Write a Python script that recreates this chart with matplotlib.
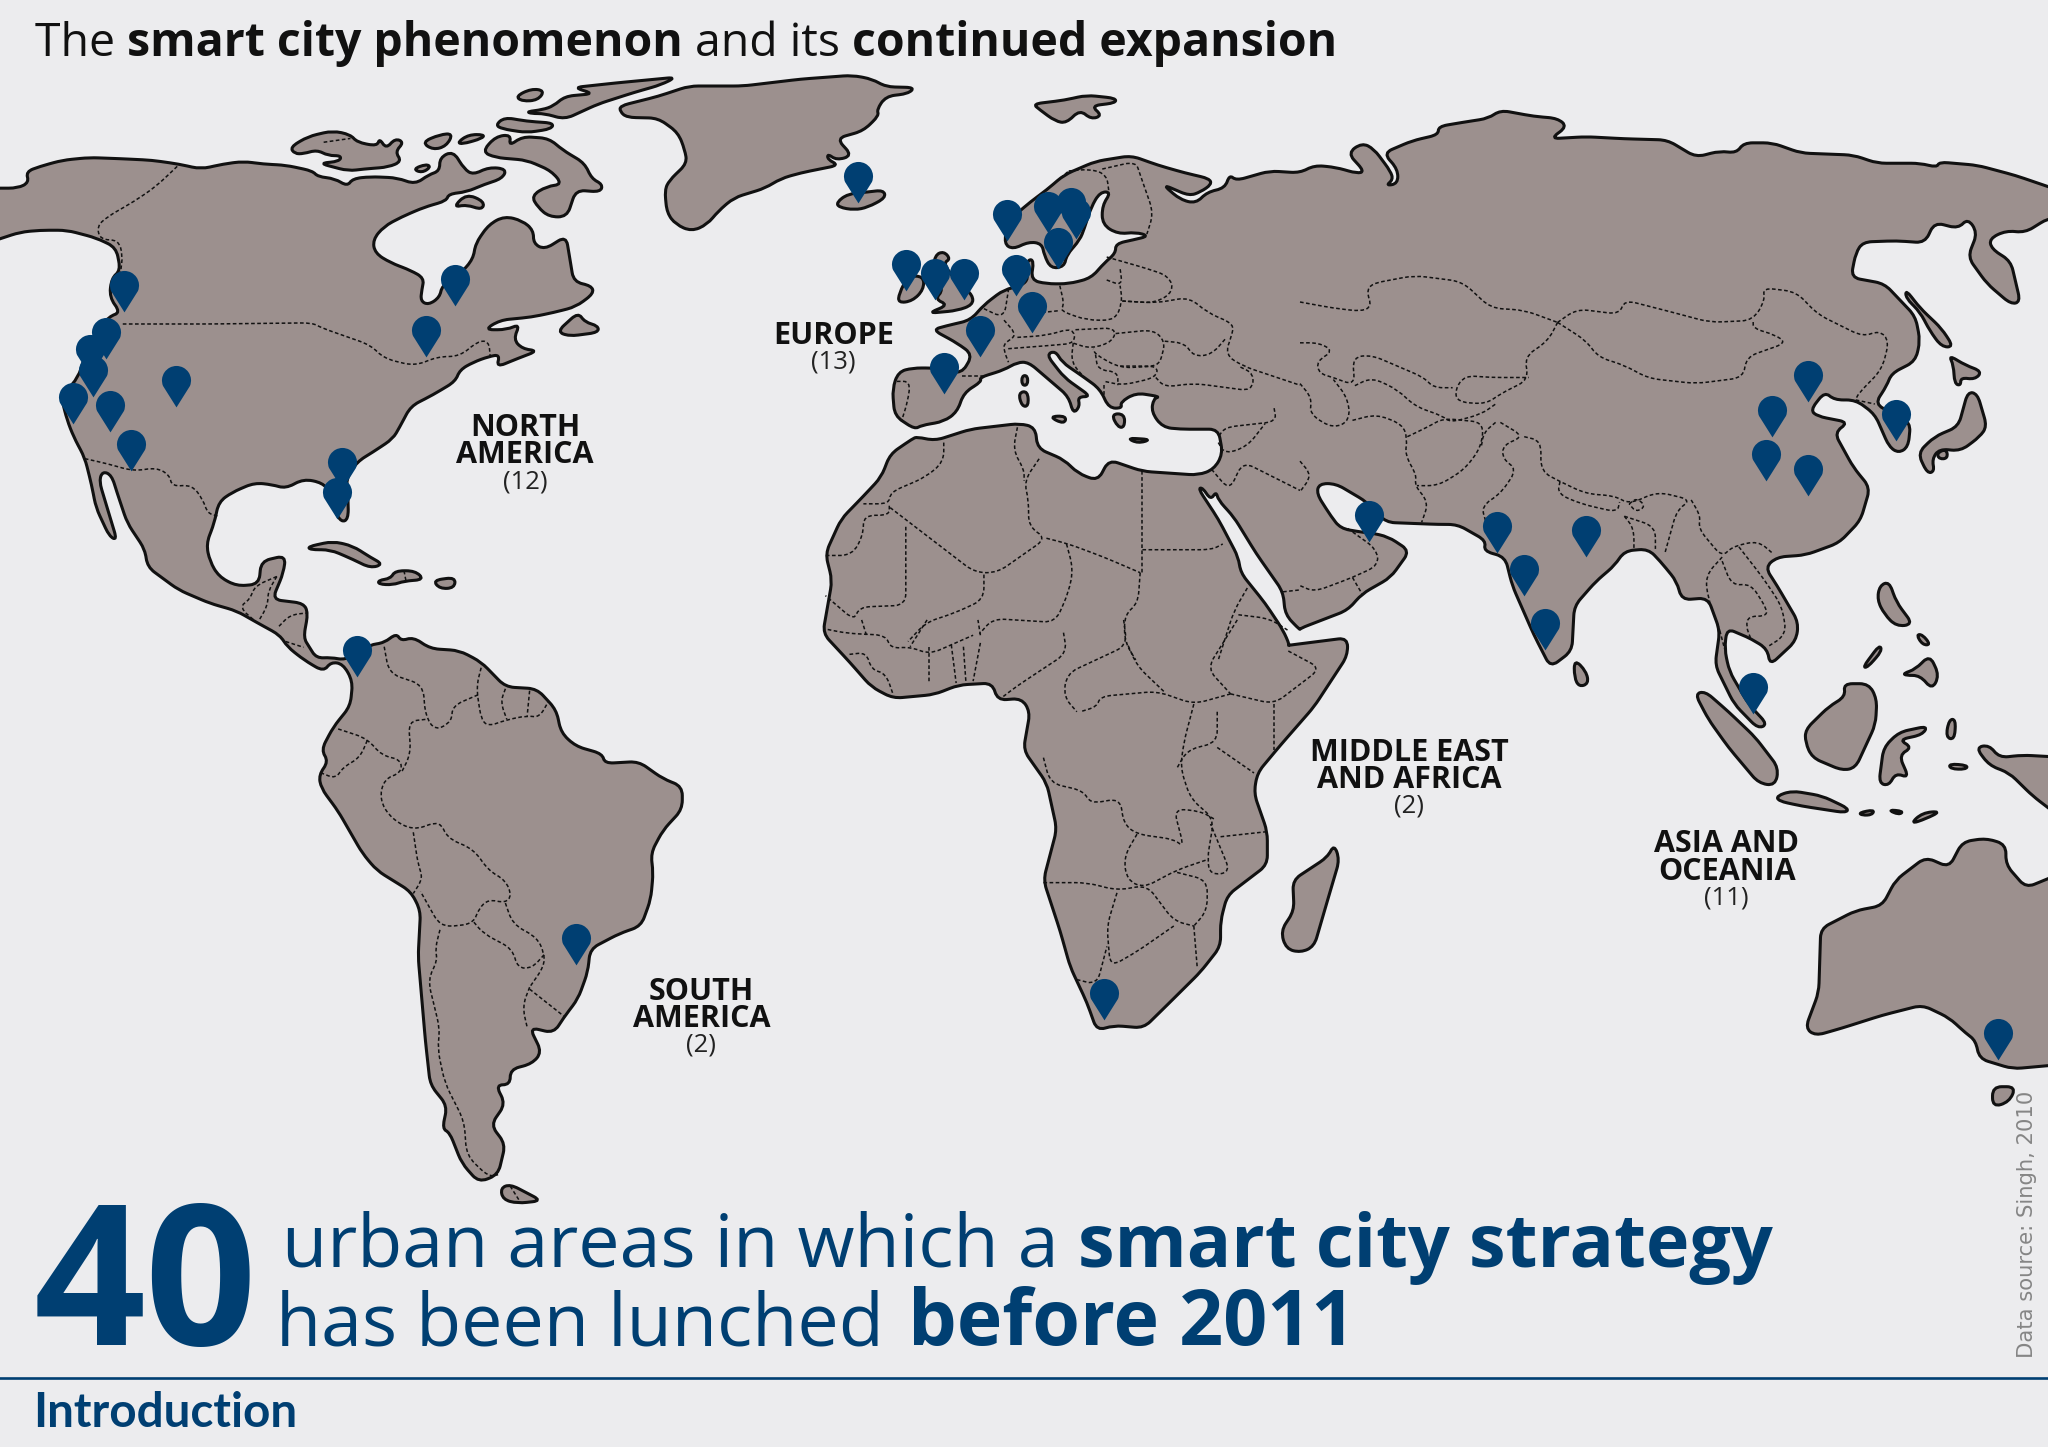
import numpy as np
import matplotlib
matplotlib.use('Agg')
import matplotlib.pyplot as plt
from matplotlib.path import Path
from matplotlib.patches import PathPatch

BLUE = '#003f72'
LAND = '#9c908e'
BG = '#ececee'
SCALE = 2048 / 1568

# crops of the reference the outlines were read from: x0, y0, width, height
Z1 = (0, 60, 700, 600)
Z2 = (600, 60, 700, 600)
Z3 = (1300, 100, 748, 640)
Z4 = (280, 620, 760, 600)
Z6 = (1000, 620, 1048, 800)

# americas, traced clockwise from the left edge
na_main = [(-20,335),(40,335),(65,320),(58,292),(90,278),(140,262),(200,255),(270,258),(340,262),(400,272),(450,285),(500,272),(545,265),(590,272),(640,275),(700,290),(712,305),(750,310),(778,330),(790,310),(830,305),(890,308),(930,325),(960,300),(985,290),(985,255),(1015,238),(1040,285),(1060,300),(1095,280),(1135,285),(1125,310),(1085,325),(1045,345),(1005,350),(1000,368),(950,385),(900,410),(860,435),(835,470),(840,505),(875,530),(920,550),(950,570),(945,600),(942,630),(960,640),(985,620),(990,590),(1030,560),(1060,520),(1065,480),(1095,430),(1130,408),(1170,420),(1195,445),(1195,480),(1220,495),(1268,460),(1278,530),(1285,580),(1325,590),(1330,610),(1290,645),(1240,660),(1190,672),(1120,680),(1085,705),(1135,705),(1165,690),(1150,730),(1170,755),(1205,760),(1160,780),(1112,803),(1120,770),(1095,775),(1060,790),(1030,810),(1020,840),(970,875),(920,905),(895,960),(880,990),(835,1025),(800,1050),(775,1095),(780,1150),(780,1200),(765,1208),(750,1180),(740,1130),(722,1105),(680,1095),(640,1120),(610,1110),(570,1105),(520,1130),(490,1155),(480,1210),(462,1265),(470,1310),(490,1350),(530,1375),(580,1370),(585,1310),(640,1295),(635,1340),(610,1410),(680,1420),(690,1445),(680,1510)]
sa_main = [(60,70),(75,100),(105,98),(135,105),(185,65),(215,60),(240,35),(250,55),(275,45),(310,75),(370,80),(415,110),(465,175),(530,180),(570,235),(580,295),(610,330),(665,350),(670,375),(740,370),(790,415),(830,435),(830,495),(790,550),(765,610),(770,660),(765,730),(745,800),(700,820),(640,860),(635,920),(615,990),(585,1040),(565,1080),(515,1065),(540,1130),(520,1160),(475,1175),(475,1215),(445,1215),(465,1265),(435,1320),(465,1370),(450,1450),(410,1470),(375,1420),(350,1340),(335,1330),(345,1270),(310,1215),(300,1100),(285,880),(290,760),(270,710),(200,655),(170,610),(120,500),(85,440),(80,405),(100,370),(85,340),(110,280),(145,225),(150,160),(130,115),(105,110),(90,135),(50,105),(15,70),(0,40)]
na_pacific = [(575,1470),(530,1440),(470,1420),(400,1385),(330,1325),(325,1280),(285,1210),(262,1130),(250,1085),(230,1075),(222,1100),(240,1170),(262,1255),(245,1245),(215,1170),(205,1110),(190,1040),(165,985),(150,940),(137,880),(175,830),(190,775),(215,710),(245,670),(270,660),(245,620),(250,570),(270,550),(260,490),(215,465),(150,445),(90,445),(45,450),(-20,475)]

# eurasia and africa share one outline
eu_north = [(705,965),(660,930),(655,860),(668,815),(700,805),(750,805),(810,820),(835,770),(800,740),(745,705),(775,695),(830,680),(860,640),(905,600),(945,590),(960,570),(950,550),(960,520),(972,525),(965,575),(1000,585),(1050,585),(1100,570),(1130,530),(1155,505),(1155,480),(1195,470),(1230,460),(1200,450),(1160,455),(1125,430),(1125,380),(1145,345),(1120,345),(1100,385),(1085,440),(1075,470),(1045,510),(1040,540),(1010,545),(995,510),(990,480),(960,475),(925,495),(905,480),(915,420),(965,370),(1000,340),(1040,300),(1110,265),(1190,250),(1250,275),(1310,295),(1365,310),(1370,325),(1345,345),(1320,355),(1260,325),(1300,365),(1335,375),(1360,345),(1400,335),(1410,300),(1425,315),(1500,290),(1568,295)]
asia_coast = [(30,160),(75,165),(120,180),(135,175),(100,130),(130,105),(155,120),(190,175),(195,195),(180,210),(205,205),(205,170),(175,130),(235,100),(290,85),(290,65),(340,55),(395,45),(420,25),(490,40),(540,45),(560,65),(525,95),(600,90),(680,95),(770,98),(830,140),(880,125),(915,130),(930,105),(990,105),(1050,130),(1160,135),(1210,155),(1300,155),(1335,165),(1340,152),(1420,160),(1500,185),(1600,225),(1600,285),(1568,290),(1520,325),(1480,320),(1445,340),(1450,365),(1490,395),(1510,495),(1490,500),(1440,450),(1400,385),(1420,325),(1400,290),(1380,315),(1330,300),(1310,350),(1250,345),(1180,348),(1165,375),(1155,435),(1225,450),(1290,530),(1300,590),(1290,640),(1240,670),(1230,700),(1205,745),(1280,790),(1275,850),(1255,865),(1235,850),(1205,770),(1165,735),(1120,735),(1100,715),(1070,760),(1085,775),(1150,790),(1120,815),(1160,900),(1195,950),(1175,1030),(1130,1085),(1060,1115),(1000,1120),(975,1145),(1000,1190),(1045,1280),(1040,1325),(985,1385),(980,1345),(945,1320),(925,1310),(895,1295),(890,1345),(900,1400),(940,1480),(980,1530),(960,1540),(910,1480),(870,1385),(880,1300),(855,1220),(800,1225),(790,1180),(755,1130),(730,1100),(680,1105),(660,1140),(620,1180),(575,1240),(570,1350),(525,1390),(490,1310),(445,1190),(430,1120),(385,1105),(390,1080),(330,1040),(290,1040),(180,1035),(140,985),(75,940),(40,940),(35,965),(65,1020),(85,1050),(135,1060),(145,1060),(185,1070),(230,1105),(190,1170),(130,1210),(100,1250),(0,1295)]
red_sea = [(1568,1490),(1535,1450),(1530,1390),(1470,1290),(1420,1195),(1385,1150),(1380,1128),(1368,1150),(1350,1118),(1340,1120),(1385,1200),(1430,1300),(1435,1340),(1490,1420),(1530,1490),(1545,1530)]
africa_east = [(430,50),(520,35),(520,70),(470,170),(420,245),(385,300),(380,340),(400,415),(400,480),(340,540),(330,590),(330,640),(300,690),(250,755),(215,800),(170,795),(145,805),(130,750),(105,680),(90,610),(65,510),(85,410),(70,320),(35,255),(45,180)]
africa_gulf = [(1530,205),(1480,210),(1470,165),(1400,170),(1350,195),(1265,205),(1220,175),(1175,110),(1120,35)]
africa_north = [(520,1360),(505,1290),(540,1200),(590,1140),(630,1090),(650,1030),(700,990),(710,985),(750,995),(830,965),(940,950),(975,960),(980,1015),(1040,1045),(1070,1080),(1115,1100),(1140,1045),(1215,1075),(1340,1085),(1375,1070)]
med_north = [(1395,1030),(1385,965),(1300,965),(1260,960),(1235,920),(1240,885),(1255,880),(1200,870),(1165,895),(1170,910),(1140,910),(1120,860),(1085,830),(1035,790),(1020,760),(1000,770),(1040,830),(1100,880),(1070,880),(1075,905),(1060,925),(1050,880),(1000,830),(960,790),(935,790),(905,810),(850,830),(855,840),(815,870),(800,920),(770,945),(720,955)]

# islands
islands_z1 = [
    [(650,228),(690,200),(745,185),(785,195),(800,215),(845,225),(850,205),(865,232),(885,205),(905,215),(885,240),(900,265),(870,280),(815,285),(780,290),(715,270),(760,265),(765,250),(735,250),(710,235),(680,245),(660,245)],
    [(925,285),(955,272),(965,280),(945,295)],
    [(945,215),(985,195),(1015,192),(1000,225),(970,235)],
    [(1025,215),(1050,195),(1085,195),(1080,205),(1035,220)],
    [(1080,240),(1110,200),(1145,195),(1140,225),(1170,200),(1230,205),(1260,235),(1310,270),(1325,310),(1350,325),(1345,345),(1290,340),(1270,410),(1230,410),(1205,385),(1190,355),(1225,330),(1260,325),(1235,290),(1180,262),(1110,255)],
    [(1110,170),(1130,150),(1180,160),(1240,165),(1235,180),(1180,190),(1125,180)],
    [(1180,135),(1215,130),(1240,120),(1265,95),(1330,88),(1285,72),(1380,60),(1515,45),(1480,65),(1420,85),(1340,115),(1265,155),(1220,140),(1190,140)],
    [(1155,95),(1190,75),(1220,80),(1205,105),(1170,108)],
    [(1015,385),(1045,350),(1085,370),(1080,392),(1045,378)],
    [(1248,710),(1295,660),(1310,685),(1340,695),(1340,712),(1275,722)],
    [(690,1272),(745,1258),(790,1270),(830,1300),(858,1318),(830,1328),(790,1305),(740,1280),(695,1280)],
    [(848,1360),(875,1355),(885,1335),(930,1335),(950,1358),(905,1362),(880,1372),(848,1370)],
    [(970,1360),(1020,1352),(1018,1380),(985,1382)],
]
islands_z2 = [
    [(45,120),(130,95),(200,68),(320,68),(450,50),(565,40),(610,50),(640,70),(705,72),(690,88),(640,95),(620,130),(625,145),(590,185),(530,205),(565,250),(530,262),(510,245),(510,260),(535,275),(450,295),(405,310),(370,335),(300,360),(265,395),(240,430),(205,448),(170,430),(150,400),(145,340),(155,315),(195,270),(190,235),(175,190),(130,152),(60,150),(45,135)],
    [(530,372),(555,350),(600,345),(635,340),(640,360),(600,385),(570,392),(535,385)],
    [(970,115),(1040,105),(1090,92),(1155,100),(1155,112),(1100,120),(1125,145),(1100,155),(1075,130),(1045,165),(1020,160),(985,130)],
    [(750,510),(770,500),(785,520),(770,530),(785,560),(810,590),(835,615),(835,640),(800,655),(735,662),(780,640),(750,625),(770,600),(745,560)],
    [(670,610),(690,565),(725,565),(725,600),(700,630),(668,635)],
    [(937,870),(958,865),(960,905),(945,905)],
    [(945,825),(958,825),(958,850),(945,850)],
    [(1005,932),(1045,930),(1040,952)],
    [(1180,988),(1235,992),(1205,1002)],
    [(1145,925),(1175,925),(1175,960),(1160,960)],
]
islands_z3 = [
    [(1295,865),(1330,825),(1380,800),(1400,715),(1420,720),(1440,800),(1425,825),(1385,860),(1340,855),(1325,880),(1330,910),(1315,915)],
    [(1335,865),(1355,855),(1358,878),(1340,880)],
    [(1360,625),(1395,650),(1430,665),(1415,685),(1385,680),(1385,700),(1372,695),(1370,650)],
    [(1270,465),(1300,510),(1345,560),(1370,605),(1345,605),(1320,565),(1300,520),(1270,485)],
    [(575,1370),(600,1400),(605,1430),(585,1438),(575,1415)],
    [(1215,1190),(1235,1180),(1250,1230),(1285,1285),(1250,1290),(1225,1260),(1210,1225)],
    [(1292,1310),(1305,1310),(1322,1335),(1305,1335)],
    [(1180,1390),(1215,1335),(1220,1350),(1190,1390)],
    [(1265,1405),(1290,1395),(1320,1360),(1340,1410),(1325,1445),(1300,1410),(1270,1410)],
]
islands_z4 = [[(455,1485),(475,1475),(540,1518),(490,1525),(460,1515)]]
islands_z6 = [
    [(1040,145),(1055,140),(1090,180),(1130,230),(1165,290),(1160,325),(1135,320),(1090,250),(1060,195)],
    [(1162,345),(1185,335),(1230,345),(1270,370),(1265,378),(1200,365),(1165,355)],
    [(1285,378),(1308,372),(1305,382),(1290,383)],
    [(1328,372),(1352,375),(1345,382)],
    [(1362,400),(1380,378),(1408,375),(1385,390)],
    [(1205,215),(1240,170),(1265,150),(1262,125),(1300,125),(1312,155),(1310,205),(1280,290),(1260,295),(1215,270),(1205,240)],
    [(1315,320),(1322,250),(1345,220),(1388,208),(1380,225),(1345,235),(1365,250),(1345,265),(1360,310),(1340,300),(1330,325)],
    [(1415,230),(1420,195),(1430,195),(1428,235)],
    [(1420,282),(1448,285),(1445,293),(1422,292)],
    [(1460,250),(1480,245),(1495,270),(1530,265),(1600,270),(1600,400),(1545,345),(1510,300),(1480,285)],
    [(1205,800),(1225,730),(1228,605),(1280,570),(1320,560),(1340,510),(1385,465),(1420,485),(1440,435),(1475,428),(1505,440),(1505,480),(1535,525),(1600,490),(1600,870),(1515,880),(1465,860),(1460,825),(1445,810),(1420,780),(1380,755),(1320,775),(1260,800),(1220,815)],
    [(1485,915),(1520,915),(1510,945),(1485,955)],
    [(420,610),(440,570),(438,510),(490,465),(500,440),(508,470),(490,550),(470,640),(450,652),(428,645)],
]

# dashed country borders
borders_z1 = [
    [(397,278),(350,330),(300,370),(240,410),(217,435),(225,470),(265,470),(275,510),(270,555)],
    [(275,690),(470,690),(700,687),(720,700),(830,745),(860,780),(930,800),(980,775),(1030,775),(1070,735),(1095,735),(1098,775)],
    [(190,1042),(240,1055),(300,1075),(350,1065),(380,1085),(385,1115),(430,1110),(455,1150),(465,1185),(488,1192)],
    [(620,1350),(570,1375),(560,1410),(535,1430),(575,1470)],
    [(620,1350),(600,1390),(600,1425),(580,1465)],
    [(625,1480),(650,1450),(690,1445)],
    [(640,1520),(680,1535)],
    [(725,215),(785,205)],
    [(905,1335),(910,1365)],
]
borders_z2 = [
    [(1050,290),(1100,285),(1135,300),(1140,345)],
    [(1000,340),(1050,290)],
    [(1125,285),(1200,265),(1210,300),(1240,400),(1225,455)],
    [(1135,515),(1225,545),(1275,565),(1285,605),(1245,635),(1170,630)],
    [(1135,575),(1170,590),(1165,545)],
    [(1030,590),(1040,640),(1030,655),(1090,680),(1155,680),(1170,630),(1165,590)],
    [(1170,630),(1245,635),(1320,620),(1360,660),(1420,690),(1415,720),(1400,770),(1440,800),(1568,850)],
    [(860,650),(905,675),(915,600)],
    [(905,680),(935,720),(905,740),(905,760),(915,790)],
    [(990,660),(1030,655)],
    [(935,725),(1000,720),(1060,700),(1065,740),(1020,745),(910,755)],
    [(1065,705),(1155,700),(1150,735),(1100,755),(1060,740)],
    [(1155,715),(1240,705),(1265,735),(1260,770),(1250,800),(1165,805),(1110,770),(1105,755)],
    [(1165,800),(1250,800),(1245,830),(1170,850),(1130,840)],
    [(1110,770),(1115,810),(1160,815),(1160,850)],
    [(1060,740),(1055,790),(1085,830)],
    [(1130,850),(1130,885)],
    [(1265,735),(1310,740),(1330,775),(1370,770),(1400,730)],
    [(1245,830),(1265,855),(1330,845),(1460,865),(1465,820),(1430,800)],
    [(1510,910),(1515,945),(1400,960),(1385,985)],
    [(1385,1000),(1400,1030),(1450,1010),(1490,950)],
    [(1370,1070),(1410,1125),(1440,1050),(1568,1125)],
    [(810,825),(860,825)],
    [(665,840),(695,840),(690,890),(675,945)],
    [(1530,1390),(1568,1385)],
    [(770,1000),(770,1050),(730,1090),(650,1130),(648,1160),(590,1160)],
    [(648,1165),(648,1190),(590,1190),(590,1240),(565,1295),(505,1295)],
    [(650,1170),(840,1340),(890,1340),(1000,1250),(960,1220),(960,1150),(950,1100),(985,1040)],
    [(935,960),(925,1020),(950,1070),(950,1100)],
    [(1215,1075),(1215,1340)],
    [(1000,1250),(1050,1265),(1130,1300),(1210,1340)],
    [(1215,1280),(1370,1280),(1395,1265)],
    [(685,1220),(685,1425),(580,1430),(570,1465),(505,1400)],
    [(860,1345),(860,1410),(795,1445),(730,1470),(690,1520)],
    [(1045,1265),(1060,1330),(1050,1390),(1020,1470),(880,1460),(850,1500)],
    [(1210,1340),(1205,1420),(1175,1450),(1175,1520),(1200,1568)],
    [(1450,1380),(1420,1440),(1385,1568)],
    [(1430,1450),(1500,1460),(1540,1490)],
]
borders_z3 = [
    [(0,495),(70,510),(130,518),(150,505),(140,470),(150,450),(240,430),(340,445),(400,510),(470,515),(540,545)],
    [(540,545),(580,512),(670,525),(680,490),(780,520),(860,545),(950,540),(975,490),(970,460),(1040,470),(1085,525),(1180,580),(1215,565),(1235,590),(1220,660),(1170,720),(1165,735)],
    [(540,545),(600,590),(625,630),(680,650),(730,682),(830,695),(930,680),(935,630),(1020,595),(995,575),(950,560),(950,540)],
    [(540,545),(520,590),(470,630),(480,685),(420,720),(390,745),(330,740),(325,710),(345,675),(400,680),(480,680)],
    [(0,595),(40,595),(70,615),(35,640),(40,670),(70,680),(115,700),(110,630),(150,625),(210,655),(260,680),(280,705),(320,705)],
    [(115,700),(150,680),(205,710),(240,750),(300,775),(315,790),(380,770),(410,745)],
    [(110,785),(160,770),(215,795),(225,830),(220,870),(245,920),(240,945),(270,985),(255,1035)],
    [(225,825),(270,800),(300,780),(385,790),(380,850),(345,905),(290,945),(245,945)],
    [(410,790),(385,815),(380,850)],
    [(420,790),(470,825),(425,845),(425,880),(455,905),(420,965),(380,995),(390,1035)],
    [(470,825),(505,835),(505,910),(545,935),(600,965),(660,970),(690,990),(750,960),(820,980),(790,1005),(765,1110)],
    [(545,935),(540,965),(590,990),(665,1010),(670,985)],
    [(690,990),(705,975),(725,995),(705,1010),(690,990)],
    [(680,1020),(700,1050),(700,1105)],
    [(680,1020),(745,1045),(745,1100)],
    [(820,980),(840,1020),(835,1050),(885,1120),(905,1095),(960,1080),(990,1110)],
    [(920,1095),(970,1170),(1010,1240),(1020,1310),(980,1340)],
    [(885,1120),(850,1165),(855,1220),(880,1300)],
    [(885,1130),(905,1190),(945,1185),(980,1250),(975,1265),(940,1265),(935,1290),(945,1320)],
    [(880,1300),(890,1345)],
    [(1165,735),(1205,745)],
    [(0,885),(25,920),(0,960)],
    [(100,1050),(160,1100),(165,1140),(110,1170),(30,1205),(0,1190)],
    [(110,1170),(130,1210)],
    [(0,695),(25,730),(20,770),(70,805),(105,785),(100,730),(70,685)],
]
borders_z4 = [
    [(215,70),(225,140),(295,170),(300,250),(320,290),(355,265),(355,225),(410,195)],
    [(415,125),(405,175),(415,260),(430,278),(465,262),(510,250),(535,255),(553,215)],
    [(465,180),(455,215),(468,260)],
    [(515,185),(510,250)],
    [(120,285),(180,310),(210,355),(250,365),(250,400),(215,415),(205,470),(230,520),(275,550),(330,525),(345,570),(400,600),(430,655),(465,680),(478,720),(465,740),(430,730),(410,755),(400,790),(370,800),(330,800),(290,710)],
    [(275,555),(285,640),(295,675),(275,715)],
    [(300,260),(265,265),(270,350),(250,400)],
    [(180,315),(165,360),(130,385),(115,415),(85,400)],
    [(400,790),(420,820),(480,860),(490,910),(520,910),(545,875)],
    [(465,740),(480,795),(530,830),(545,870),(545,905),(515,960)],
    [(515,960),(500,1010),(510,1065)],
    [(515,965),(585,1035)],
    [(330,810),(320,860),(325,890),(305,940),(330,1070),(325,1120),(340,1210),(380,1310),(385,1400),(430,1455),(450,1450)],
    [(475,1480),(495,1520)],
    [(1130,25),(1170,35),(1250,40),(1260,75),(1300,70),(1340,90),(1430,40)],
    [(1200,0),(1210,40)],
    [(1335,0),(1300,70)],
    [(1175,90),(1210,85),(1220,130),(1250,140),(1265,195)],
    [(1340,70),(1340,165)],
    [(1385,65),(1395,165)],
    [(1410,70),(1415,160)],
    [(1445,60),(1430,160)],
    [(1445,40),(1440,0)],
]
borders_z6 = [
    [(95,25),(100,65),(25,130),(5,150)],
    [(185,0),(190,50),(100,105),(95,150),(115,180)],
    [(355,0),(310,95),(345,145)],
    [(345,145),(290,165),(235,140),(150,150),(145,170),(120,180)],
    [(245,140),(205,90),(190,45)],
    [(345,145),(410,165),(480,95),(430,60)],
    [(290,165),(275,240),(270,290),(285,350),(320,390),(310,470),(315,500),(345,495),(315,400)],
    [(325,180),(325,240),(280,255),(265,290)],
    [(325,250),(380,300)],
    [(410,165),(410,255)],
    [(65,270),(75,320),(125,335),(135,360),(180,350),(185,400),(205,420),(260,430),(275,445),(260,370),(300,375),(320,390)],
    [(330,425),(400,415)],
    [(205,420),(185,465),(190,510),(215,525),(265,490),(310,470)],
    [(65,515),(130,515),(175,530),(220,520),(260,590),(290,600)],
    [(175,535),(160,600),(165,680),(205,650),(260,600)],
    [(290,600),(295,680)],
    [(265,495),(310,510),(310,570),(290,600)],
    [(115,705),(145,715),(160,640)],
]

# city pins, head centres
pin_x = [95,348,326,81,69,71,56,84,135,100,262,258,273,441,657,694,716,738,771,802,820,824,810,778,790,750,723,1048,845,1146,1214,1167,1183,1342,1352,1384,1357,1384,1452,1530]
pin_y = [218,214,253,254,267,283,304,310,291,340,354,377,498,718,135,202,209,209,164,158,155,162,185,206,234,253,281,394,760,403,406,436,477,526,348,359,314,287,317,791]

region_names = ['NORTH\nAMERICA', 'EUROPE', 'SOUTH\nAMERICA', 'MIDDLE EAST\nAND AFRICA', 'ASIA AND\nOCEANIA']
region_counts = ['(12)', '(13)', '(2)', '(2)', '(11)']
region_x = [402, 638, 537, 1079, 1322]
region_y = [338, 257, 770, 587, 657]
count_y = [368, 276, 799, 616, 687]


def crop(points, box):
    """Crop pixel coordinates to map coordinates"""
    pts = np.array(points, dtype=float)
    x = (box[0] + pts[:, 0] * box[2] / 1568) / SCALE
    y = (box[1] + pts[:, 1] * box[3] / 1568) / SCALE
    return np.column_stack([x, y])


def rounded(o, closed=True, r=7.0):
    """Path through an outline with its corners rounded off"""
    n = len(o)
    verts, codes = [], []
    idx = range(n) if closed else range(1, n - 1)
    if not closed:
        verts.append(o[0])
        codes.append(Path.MOVETO)
    for i in idx:
        p, v, q = o[(i - 1) % n], o[i], o[(i + 1) % n]
        a = v + (p - v) * min(0.5, r / max(np.hypot(*(p - v)), 1e-6))
        b = v + (q - v) * min(0.5, r / max(np.hypot(*(q - v)), 1e-6))
        verts.append(a)
        codes.append(Path.MOVETO if (closed and not verts[:-1]) else Path.LINETO)
        verts += [v, b]
        codes += [Path.CURVE3, Path.CURVE3]
    if closed:
        verts.append(verts[0])
        codes.append(Path.CLOSEPOLY)
    else:
        verts.append(o[-1])
        codes.append(Path.LINETO)
    return Path(np.array(verts), codes)


def write_runs(ax, x, y, runs, size, color):
    """Write regular and bold pieces one after another on a baseline"""
    r = fig.canvas.get_renderer()
    for s, weight in runs:
        t = ax.text(x, y, s, fontsize=size, color=color, fontweight=weight, family='Open Sans', va='baseline', ha='left')
        x += t.get_window_extent(r).width / SCALE
    return x


def land(o):
    ax.add_patch(PathPatch(rounded(o), facecolor=LAND, edgecolor='#111111', linewidth=2.2, joinstyle='round', zorder=2))


fig = plt.figure(figsize=(20.48, 14.47), dpi=100, facecolor=BG)
ax = fig.add_axes([0, 0, 1, 1])
ax.set_xlim(0, 1568)
ax.set_ylim(1108, 0)
ax.axis('off')

land(np.vstack([crop(na_main, Z1), crop(sa_main, Z4), crop(na_pacific, Z1)]))
land(np.vstack([crop(eu_north, Z2), crop(asia_coast, Z3), crop(red_sea, Z2), crop(africa_east, Z6),
                crop(africa_gulf, Z4), crop(africa_north, Z2), crop(med_north, Z2)]))
for group, box in [(islands_z1, Z1), (islands_z2, Z2), (islands_z3, Z3), (islands_z4, Z4), (islands_z6, Z6)]:
    for pts in group:
        land(crop(pts, box))
for group, box in [(borders_z1, Z1), (borders_z2, Z2), (borders_z3, Z3), (borders_z4, Z4), (borders_z6, Z6)]:
    for pts in group:
        ax.add_patch(PathPatch(rounded(crop(pts, box), closed=False, r=9.0), fill=False, edgecolor='#111111',
                               linewidth=1.1, linestyle=(0, (2.4, 1.6)), zorder=3))

# teardrop marker
arc = Path.arc(-22, 202)
verts = np.vstack([arc.vertices, [[0, -1.85]], arc.vertices[:1]])
codes = list(arc.codes) + [Path.LINETO, Path.CLOSEPOLY]
pin = Path(verts, codes)
ax.scatter(pin_x, pin_y, s=1500, marker=pin, color=BLUE, linewidths=0, zorder=4)

for name, cnt, x, y, yc in zip(region_names, region_counts, region_x, region_y, count_y):
    ax.text(x, y, name, ha='center', va='center', fontsize=22, fontweight='bold', family='Open Sans',
            color='#111111', linespacing=0.88, zorder=5)
    ax.text(x, yc + 1, cnt, ha='center', va='center', fontsize=18.5, family='Open Sans', color='#222222', zorder=5)

write_runs(ax, 27, 43, [('The ', 'normal'), ('smart city phenomenon ', 'bold'), ('and its ', 'normal'), ('continued expansion', 'bold')], 33.4, '#111111')
ax.text(26, 1030, '40', fontsize=141, fontweight='bold', family='Open Sans', color=BLUE, va='baseline', ha='left')
write_runs(ax, 216, 970, [('urban areas in which a ', 'normal'), ('smart city strategy', 'bold')], 53, BLUE)
write_runs(ax, 211, 1030, [('has been lunched ', 'normal')], 53, BLUE)
write_runs(ax, 695, 1030, [('before 2011', 'bold')], 55.5, BLUE)
ax.plot([0, 1568], [1055, 1055], color=BLUE, linewidth=1.9, zorder=2)
ax.text(25, 1093, 'Introduction', fontsize=34.3, fontweight='bold', family='Lato', color=BLUE, va='baseline', ha='left')
ax.text(1552, 1040, 'Data source: Singh, 2010', rotation=90, fontsize=15.2, family='DejaVu Sans', color='#858585', ha='center', va='bottom')

fig.savefig('out.png', dpi=100, facecolor=BG)
